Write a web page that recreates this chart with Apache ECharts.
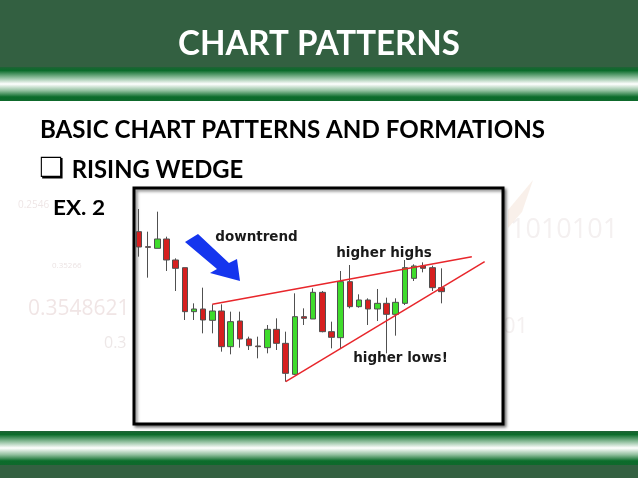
<!DOCTYPE html>
<html>
<head>
<meta charset="utf-8">
<script src="https://cdn.jsdelivr.net/npm/echarts@6/dist/echarts.min.js"></script>
<style>html,body{margin:0;padding:0;background:#fff;}#c{width:638px;height:478px;}</style>
</head>
<body>
<div id="c"></div>
<script>
// ---- data ----
const categories = ['1','2','3','4','5','6','7','8','9','10','11','12','13','14','15','16','17','18','19','20',
  '21','22','23','24','25','26','27','28','29','30','31','32','33','34','35','36','37','38','39'];
// [open, close, low, high]
const candles = [
  [86.0, 81.4, 78.5, 92.8],
  [81.5, 81.3, 72.2, 86.0],
  [81.0, 83.8, 81.0, 92.0],
  [83.8, 77.5, 74.2, 84.5],
  [77.5, 75.0, 68.2, 78.0],
  [75.2, 62.0, 59.5, 75.2],
  [62.0, 62.8, 59.5, 64.5],
  [62.8, 59.5, 55.5, 69.2],
  [59.4, 62.2, 55.5, 64.2],
  [62.2, 51.5, 50.0, 64.2],
  [51.5, 59.0, 49.2, 62.0],
  [59.2, 53.8, 51.2, 62.0],
  [53.8, 51.8, 50.5, 54.5],
  [51.7, 51.5, 48.0, 54.5],
  [51.2, 56.7, 49.5, 58.0],
  [56.7, 52.5, 50.5, 60.0],
  [52.5, 43.5, 41.0, 56.0],
  [43.2, 60.5, 43.0, 67.5],
  [60.5, 60.0, 58.0, 63.0],
  [59.8, 67.8, 59.8, 69.0],
  [67.8, 56.0, 55.8, 68.2],
  [56.0, 54.3, 51.0, 59.0],
  [54.2, 71.0, 51.0, 74.2],
  [71.0, 63.5, 63.0, 76.0],
  [63.5, 65.5, 63.2, 67.2],
  [65.5, 62.8, 58.0, 66.0],
  [62.8, 64.5, 59.2, 68.8],
  [64.5, 61.2, 49.5, 66.2],
  [61.2, 64.8, 54.8, 66.0],
  [64.5, 75.2, 64.0, 77.5],
  [72.0, 75.7, 71.2, 76.2],
  [75.7, 75.0, 73.8, 76.8],
  [75.2, 69.2, 68.2, 75.8],
  [69.2, 68.0, 64.5, 75.0]
];
// wedge trend lines [categoryPosition, price]
const upperTrend = [[8, 64.2], [36.3, 78.5]];
const lowerTrend = [[16, 41.0], [37.7, 77.0]];
const annotations = ['downtrend', 'higher highs', 'higher lows!'];
const titleText = 'CHART PATTERNS';
const line1 = 'BASIC CHART PATTERNS AND FORMATIONS';
const line2 = 'RISING WEDGE';
const line3 = 'EX. 2';

// ---- helpers ----
const mctx = document.createElement('canvas').getContext('2d');
function fit(text, font, target) {
  mctx.font = font;
  return target / mctx.measureText(text).width;
}
const HF = 'Lato, "Open Sans", sans-serif';
function slideText(text, size, x, yc, target, color) {
  const font = 'bold ' + size + 'px ' + HF;
  const s = fit(text, font, target);
  return {
    type: 'text', x: x, y: yc + 0.05 * size, scaleX: s, z: 5,
    style: { text: text, font: font, fill: color, textAlign: 'left', textVerticalAlign: 'middle' }
  };
}
const stripe = (y) => ({
  type: 'rect', shape: { x: 0, y: y, width: 638, height: 34 }, z: 0, silent: true,
  style: { fill: new echarts.graphic.LinearGradient(0, 0, 0, 1, [
    { offset: 0, color: '#1f6336' }, { offset: 0.1, color: '#0a6b2a' },
    { offset: 0.3, color: '#86b995' }, { offset: 0.5, color: '#ffffff' },
    { offset: 0.7, color: '#8fbe9c' }, { offset: 0.88, color: '#0b6c2b' },
    { offset: 1, color: '#0f692c' }]) }
});
const wm = (text, x, y, size, color) => ({
  type: 'text', x: x, y: y, z: 0, silent: true,
  style: { text: text, font: size + 'px "Open Sans", sans-serif', fill: color, textVerticalAlign: 'middle' }
});

const chart = echarts.init(document.getElementById('c'), null, { renderer: 'canvas' });
chart.setOption({
  animation: false,
  backgroundColor: '#ffffff',
  grid: { left: 134.4, top: 185, width: 357.6, height: 233.33 },
  xAxis: [
    { type: 'category', data: categories, show: false, boundaryGap: true },
    { type: 'value', min: -0.5, max: 38.5, show: false }
  ],
  yAxis: { type: 'value', min: 30, max: 100, show: false },
  series: [
    {
      type: 'candlestick', data: candles, barWidth: 6, xAxisIndex: 0,
      itemStyle: { color: '#3fdc2c', color0: '#d61f1f', borderColor: '#505050', borderColor0: '#505050', borderWidth: 1 }
    },
    {
      type: 'line', data: upperTrend, xAxisIndex: 1, symbol: 'none',
      lineStyle: { color: '#e8262b', width: 1.5 }, z: 3
    },
    {
      type: 'line', data: lowerTrend, xAxisIndex: 1, symbol: 'none',
      lineStyle: { color: '#e8262b', width: 1.5 }, z: 3
    }
  ],
  graphic: { elements: [
    // header
    { type: 'rect', shape: { x: 0, y: 0, width: 638, height: 68 }, z: 0, style: { fill: '#336041' } },
    stripe(67),
    { type: 'rect', shape: { x: 0, y: 464, width: 638, height: 14 }, z: 0, style: { fill: '#336041' } },
    stripe(431),
    // faint watermarks
    wm('0.2546', 18, 205, 10, 'rgba(200,170,170,0.3)'),
    wm('0.35266', 52, 266, 8, 'rgba(190,160,160,0.3)'),
    wm('0.3548621', 28, 309, 21, 'rgba(200,160,160,0.28)'),
    wm('0.3', 104, 343, 16, 'rgba(190,170,170,0.28)'),
    wm('1010101', 510, 230, 27, 'rgba(200,180,180,0.2)'),
    wm('01', 503, 327, 22, 'rgba(200,180,180,0.2)'),
    { type: 'polygon', z: 0, shape: { points: [[508, 228], [508, 210], [533, 180], [522, 212]] }, style: { fill: 'rgba(235,205,185,0.3)' } },
    // chart frame
    { type: 'rect', z: 1, shape: { x: 134, y: 188, width: 369, height: 236 },
      style: { fill: '#ffffff', stroke: '#000000', lineWidth: 3, shadowBlur: 3, shadowOffsetX: 2, shadowOffsetY: 2, shadowColor: 'rgba(0,0,0,0.45)' } },
    // texts
    slideText(titleText, 34, 178, 42.3, 282, '#ffffff'),
    slideText(line1, 24.7, 40, 129.2, 505, '#000000'),
    { type: 'text', x: 39, y: 170, z: 5, style: { text: '\u274F', font: 'bold 28px "DejaVu Sans"', fill: '#000', textVerticalAlign: 'middle' } },
    slideText(line2, 24.7, 71.7, 169.2, 171.6, '#000000'),
    slideText(line3, 21.4, 53, 206.7, 52, '#000000'),
    // arrow
    { type: 'polygon', z: 6, shape: { points: [[198, 234], [229, 263], [237, 259], [240, 281], [210, 273], [217, 269], [185, 242]] },
      style: { fill: '#1535ee' } },
    // annotations
    { type: 'text', x: 256.5, y: 237, z: 6, style: { text: annotations[0], font: 'bold 13.5px "DejaVu Sans"', fill: '#1a1a1a', textAlign: 'center', textVerticalAlign: 'middle' } },
    { type: 'text', x: 384, y: 253.3, z: 6, style: { text: annotations[1], font: 'bold 13.5px "DejaVu Sans"', fill: '#1a1a1a', textAlign: 'center', textVerticalAlign: 'middle' } },
    { type: 'text', x: 400.5, y: 358.3, z: 6, style: { text: annotations[2], font: 'bold 13.5px "DejaVu Sans"', fill: '#1a1a1a', textAlign: 'center', textVerticalAlign: 'middle' } }
  ] }
});
</script>
</body>
</html>
